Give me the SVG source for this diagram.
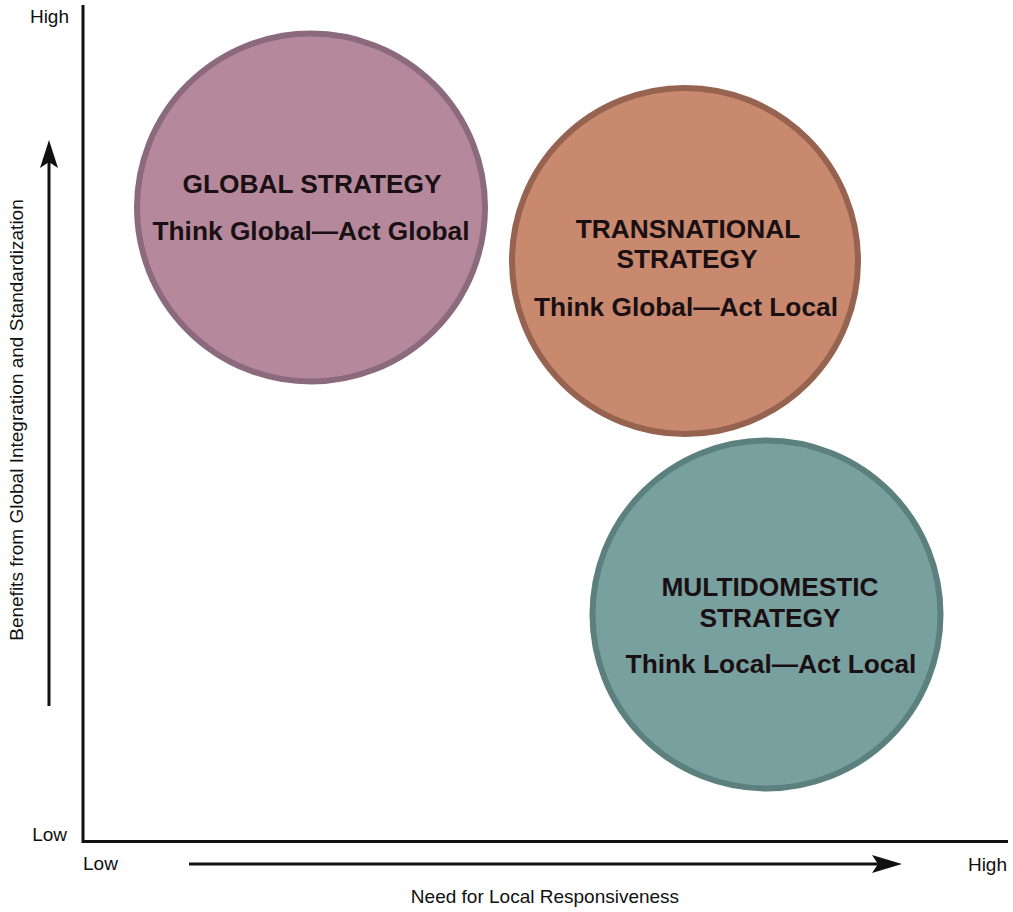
<svg xmlns="http://www.w3.org/2000/svg" width="1013" height="912" viewBox="0 0 1013 912">
<style>
.axis{stroke:#111;stroke-width:3;fill:none}
.lbl{font-family:"Liberation Sans",Arial,sans-serif;font-size:19px;fill:#111}
.t{font-family:"Liberation Sans",Arial,sans-serif;font-weight:bold;font-size:26.3px;fill:#1a1014;text-anchor:middle}
.head{fill:#111}
</style>
<rect width="1013" height="912" fill="#fff"/>
<g id="connectors">
<path class="axis" d="M83,5 V841.5 H1008"/>
<line class="axis" x1="49" y1="706" x2="49" y2="160"/>
<path class="head" d="M49,140 L58,168 L49,162 L40,168 Z"/>
<line class="axis" x1="189" y1="864" x2="880" y2="864"/>
<path class="head" d="M902,864 L872,873 L878,864 L872,855 Z"/>
</g>
<g id="labels">
<text class="lbl" x="69" y="23" text-anchor="end">High</text>
<text class="lbl" x="67" y="841" text-anchor="end">Low</text>
<text class="lbl" x="83" y="870">Low</text>
<text class="lbl" x="1007" y="871" text-anchor="end">High</text>
<text class="lbl" x="545" y="903" text-anchor="middle">Need for Local Responsiveness</text>
<text class="lbl" transform="translate(23,420) rotate(-90)" text-anchor="middle">Benefits from Global Integration and Standardization</text>
</g>
<g id="global">
<circle cx="311" cy="207.5" r="174" fill="#b5899b" stroke="#8c6a7e" stroke-width="6"/>
<text class="t" x="312" y="193">GLOBAL STRATEGY</text>
<text class="t" x="311" y="240">Think Global—Act Global</text>
</g>
<g id="transnational">
<circle cx="685" cy="261" r="173" fill="#c8896e" stroke="#95634f" stroke-width="6"/>
<text class="t" x="688" y="238">TRANSNATIONAL</text>
<text class="t" x="687" y="268">STRATEGY</text>
<text class="t" x="686" y="316">Think Global—Act Local</text>
</g>
<g id="multidomestic">
<circle cx="766.5" cy="614.5" r="174" fill="#77a09e" stroke="#5b807e" stroke-width="6"/>
<text class="t" x="770" y="596">MULTIDOMESTIC</text>
<text class="t" x="770" y="627">STRATEGY</text>
<text class="t" x="771" y="673">Think Local—Act Local</text>
</g>
</svg>
